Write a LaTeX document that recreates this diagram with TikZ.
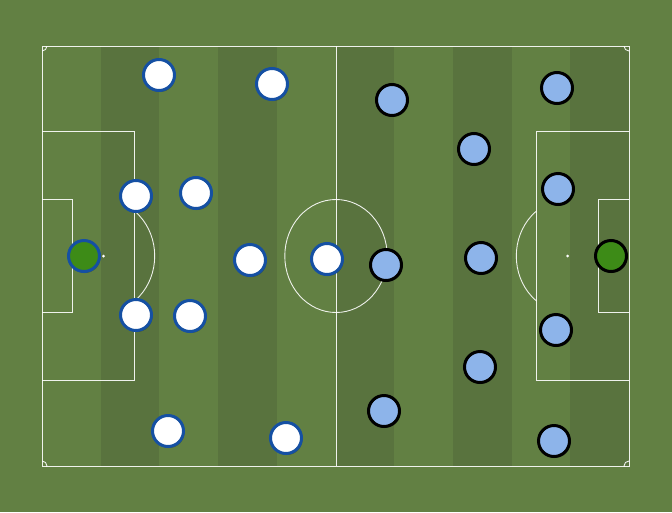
\documentclass[tikz,border=0pt]{standalone}
\usetikzlibrary{shadows}
\definecolor{bggreen}{HTML}{628043}
\definecolor{darkstripe}{HTML}{59733E}
\definecolor{homeblue}{HTML}{1550A3}
\definecolor{awayfill}{HTML}{8DB4EA}
\definecolor{keeper}{HTML}{3D8B17}
\tikzset{
  pitchline/.style={draw=white, line width=0.9pt, draw opacity=0.9},
  player/.style={circle, minimum size=31pt, inner sep=0pt, line width=3pt,
    drop shadow={shadow xshift=1pt, shadow yshift=-1.5pt, opacity=0.25, fill=black}},
  home/.style={player, draw=homeblue, fill=white},
  away/.style={player, draw=black, fill=awayfill},
  homegk/.style={player, draw=homeblue, fill=keeper},
  awaygk/.style={player, draw=black, fill=keeper},
  spot/.style={circle, fill=white, minimum size=3pt, inner sep=0pt}
}
\begin{document}
\begin{tikzpicture}[x=1pt,y=-1pt]
\useasboundingbox (0,0) rectangle (672,512);
\fill[bggreen] (0,0) rectangle (672,512);
% stripes
\foreach \i in {1,3,5,7,9}{
  \fill[darkstripe] ({42+\i*58.7},46) rectangle ({42+(\i+1)*58.7},466);
}
% outline
\draw[pitchline] (42,46) rectangle (629,466);
\draw[pitchline] (336,46) -- (336,466);
\draw[pitchline] (336,256) ellipse [x radius=51.2, y radius=56.5];
% left boxes
\draw[pitchline] (42,131.5) -- (134.5,131.5) -- (134.5,380.5) -- (42,380.5);
\draw[pitchline] (42,199.5) -- (72.5,199.5) -- (72.5,312.5) -- (42,312.5);
\begin{scope}
  \clip (134.5,150) rectangle (200,360);
  \draw[pitchline] (103.5,256) ellipse [x radius=51.2, y radius=56.5];
\end{scope}
% right boxes
\draw[pitchline] (629,131.5) -- (536.5,131.5) -- (536.5,380.5) -- (629,380.5);
\draw[pitchline] (629,199.5) -- (598.5,199.5) -- (598.5,312.5) -- (629,312.5);
\begin{scope}
  \clip (470,150) rectangle (536.5,360);
  \draw[pitchline] (567.5,256) ellipse [x radius=51.2, y radius=56.5];
\end{scope}
% corner arcs
\begin{scope}
  \clip (42,46) rectangle (629,466);
  \draw[pitchline] (42,46) circle [radius=5];
  \draw[pitchline] (629,46) circle [radius=5];
  \draw[pitchline] (42,466) circle [radius=5];
  \draw[pitchline] (629,466) circle [radius=5];
\end{scope}
% spots
\node[spot] (lspot) at (103.5,256) {};
\node[spot] (rspot) at (567.5,256) {};
\node[spot] (cspot) at (336,256) {};
% home team
\node[homegk] (h1) at (84,256) {};
\node[home] (h2) at (159,75) {};
\node[home] (h3) at (272,84) {};
\node[home] (h4) at (136,196) {};
\node[home] (h5) at (196,193) {};
\node[home] (h6) at (250,260) {};
\node[home] (h7) at (327,259) {};
\node[home] (h8) at (136,315) {};
\node[home] (h9) at (190,316) {};
\node[home] (h10) at (168,431) {};
\node[home] (h11) at (286,438) {};
% away team
\node[awaygk] (a1) at (611,256) {};
\node[away] (a2) at (392,100) {};
\node[away] (a3) at (557,88) {};
\node[away] (a4) at (474,149) {};
\node[away] (a5) at (558,189) {};
\node[away] (a6) at (386,265) {};
\node[away] (a7) at (481,258) {};
\node[away] (a8) at (556,330) {};
\node[away] (a9) at (480,367) {};
\node[away] (a10) at (384,411) {};
\node[away] (a11) at (554,441) {};
\end{tikzpicture}
\end{document}
